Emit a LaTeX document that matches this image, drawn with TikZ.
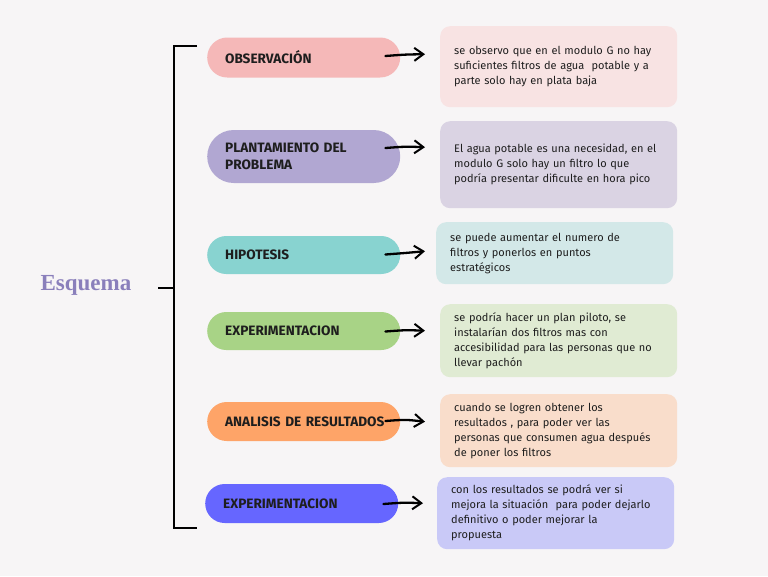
\documentclass[tikz,border=0pt]{standalone}
\usepackage{fontspec}
\setmainfont{Fira Sans}
\newfontfamily\titlefont{Liberation Serif}
\usetikzlibrary{arrows.meta,calc}
\definecolor{bg}{HTML}{F7F5F6}
\definecolor{txt}{HTML}{1E1E1E}
\definecolor{ttl}{HTML}{8A7FBB}
\definecolor{pa}{HTML}{F5B8B8}\definecolor{ba}{HTML}{F8E3E3}
\definecolor{pb}{HTML}{B1A7D2}\definecolor{bb}{HTML}{DAD3E3}
\definecolor{pc}{HTML}{88D3D0}\definecolor{bc}{HTML}{D3E8E8}
\definecolor{pd}{HTML}{A8D386}\definecolor{bd}{HTML}{E0EBD3}
\definecolor{pe}{HTML}{FEA468}\definecolor{be}{HTML}{F9DDCB}
\definecolor{pf}{HTML}{6666FF}\definecolor{bf}{HTML}{C9C9F7}
\hbadness=10000 \hfuzz=100pt
\begin{document}
\begin{tikzpicture}[x=1pt,y=-1pt,
  pill/.style={anchor=west,minimum width=193pt,text width=157pt,inner xsep=18pt,inner ysep=0pt,
    align=left,text=txt,font=\fontsize{13.6}{17}\selectfont\bfseries},
  infobox/.style={anchor=north west,minimum width=237pt,text width=209pt,inner xsep=14pt,inner ysep=0pt,
    align=left,text=txt,rounded corners=10pt,font=\fontsize{11}{15}\selectfont},
  conn/.style={line width=2.3pt,line cap=round,-{Straight Barb[length=9pt,width=13pt,line width=2pt]}},
  brk/.style={line width=1.2pt}]
\useasboundingbox[fill=bg] (0,0) rectangle (768,576);
% title
\node[text=ttl,font=\titlefont\fontsize{23}{25}\selectfont\bfseries] (esq) at (86,285) {Esquema};
% bracket
\coordinate (bt) at (197,46);
\coordinate (btc) at (174,46);
\coordinate (bbc) at (174,528);
\coordinate (bb) at (197,528);
\coordinate (bm) at (174,288);
\coordinate (bl) at (158,288);
\draw[brk] (bt) -- (btc) -- (bbc) -- (bb);
\draw[brk] (bl) -- (bm);
% pills
\node[pill,minimum height=40pt,fill=pa,rounded corners=20pt] (p1) at (207,57.5) {OBSERVACIÓN};
\node[pill,minimum height=53pt,fill=pb,rounded corners=26.5pt] (p2) at (207,156.5) {PLANTAMIENTO DEL\\PROBLEMA};
\node[pill,minimum height=38pt,fill=pc,rounded corners=19pt] (p3) at (207,255) {HIPOTESIS};
\node[pill,minimum height=38pt,fill=pd,rounded corners=19pt] (p4) at (207,331) {EXPERIMENTACION};
\node[pill,minimum height=39pt,fill=pe,rounded corners=19.5pt] (p5) at (207,421.5) {\mbox{ANALISIS DE RESULTADOS}};
\node[pill,minimum height=39pt,fill=pf,rounded corners=19.5pt] (p6) at (205,503.5) {EXPERIMENTACION};
% boxes
\node[infobox,minimum height=81pt,fill=ba] (b1) at (440,26) {se observo que en el modulo G no hay\\suficientes filtros de agua\ \ potable y a\\parte solo hay en plata baja};
\node[infobox,minimum height=87pt,fill=bb] (b2) at (440,121) {El agua potable es una necesidad, en el\\modulo G solo hay un filtro lo que\\podría presentar dificulte en hora pico};
\node[infobox,minimum height=62pt,fill=bc] (b3) at (436,222) {se puede aumentar el numero de\\filtros y ponerlos en puntos\\estratégicos};
\node[infobox,minimum height=73pt,fill=bd] (b4) at (440,304) {se podría hacer un plan piloto, se\\instalarían dos filtros mas con\\accesibilidad para las personas que no\\llevar pachón};
\node[infobox,minimum height=73pt,fill=be] (b5) at (440,394) {cuando se logren obtener los\\resultados , para poder ver las\\personas que consumen agua después\\de poner los filtros};
\node[infobox,minimum height=72pt,fill=bf] (b6) at (437,477) {con los resultados se podrá ver si\\mejora la situación\ \ para poder dejarlo\\definitivo o poder mejorar la\\propuesta};
% connectors
\draw[conn] ($(p1.east)+(-15,-1.5)$) .. controls ($(p1.east)+(5,-3)$) .. ($(b1.west)+(-15,-12.5)$);
\draw[conn] ($(p2.east)+(-15,-8.5)$) .. controls ($(p2.east)+(5,-10)$) .. ($(b2.west)+(-15,-17.5)$);
\draw[conn] ($(p3.east)+(-15,-0.5)$) .. controls ($(p3.east)+(5,-2)$) .. ($(b3.west)+(-11,-2)$);
\draw[conn] ($(p4.east)+(-15,0.5)$) .. controls ($(p4.east)+(5,-1)$) .. ($(b4.west)+(-15,-10)$);
\draw[conn] ($(p5.east)+(-15,-0.5)$) .. controls ($(p5.east)+(5,-2)$) .. ($(b5.west)+(-15,-9)$);
\draw[conn] ($(p6.east)+(-15,0.5)$) .. controls ($(p6.east)+(5,-1)$) .. ($(b6.west)+(-14,-10)$);
\end{tikzpicture}
\end{document}
